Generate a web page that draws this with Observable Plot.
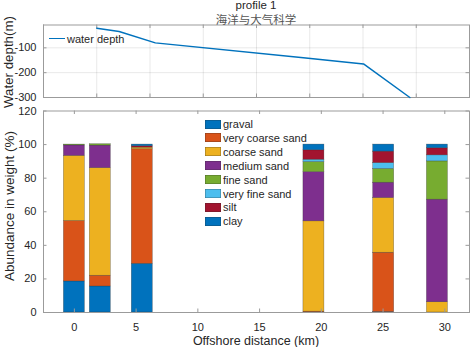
<!DOCTYPE html>
<html><head><meta charset="utf-8">
<script src="https://cdn.jsdelivr.net/npm/d3@7"></script>
<script src="https://cdn.jsdelivr.net/npm/@observablehq/plot@0.6"></script>
<style>
body{margin:0;background:#fff;}
#fig{position:relative;width:474px;height:347px;overflow:hidden;font-family:"Liberation Sans",Arial,sans-serif;background:#fff;}
#fig svg{position:absolute;left:0;background:transparent;overflow:visible;}
.lbl{position:absolute;white-space:nowrap;color:#262626;line-height:1;}
</style></head><body><div id="fig"></div>
<script>
// ---- data ----
const stations = [0, 2.1, 5.5, 19.4, 25.05, 29.4];          // offshore distance (km)
const waterDepth = [-21, -34, -80, -140, -165, -300];       // m
const classes = ["graval","very coarse sand","coarse sand","medium sand","fine sand","very fine sand","silt","clay"];
const graval        = [18.5, 15.5, 29.0, 0.0, 0.3, 0.0];
const veryCoarse    = [36.0,  6.4, 68.2, 0.5, 35.3, 0.0];
const coarse        = [38.8, 64.1,  1.0, 53.8, 32.6, 6.1];
const medium        = [ 6.2, 13.4,  0.0, 29.3,  9.1, 61.1];
const fine          = [ 0.5,  0.8,  0.0,  6.0,  8.2, 22.8];
const veryFine      = [ 0.0,  0.0,  0.0,  1.4,  3.5,  3.6];
const silt          = [ 0.0,  0.0,  0.8,  5.6,  6.8,  4.2];
const clay          = [ 0.0,  0.0,  1.0,  3.4,  4.2,  2.2];
const xTicks = [0, 5, 10, 15, 20, 25, 30];
const depthTicks = [-100, -200, -300];
const abundTicks = [0, 20, 40, 60, 80, 100, 120];
const colors = ["#0072BD","#D95319","#EDB120","#7E2F8E","#77AC30","#4DBEEE","#A2142F","#0072BD"];

// ---- build tables ----
const series = [graval, veryCoarse, coarse, medium, fine, veryFine, silt, clay];
const rows = [];
stations.forEach((km, i) => {
  let acc = 0;
  series.forEach((s, k) => {
    rows.push({km, cls: classes[k], y1: acc, y2: acc + s[i]});
    acc += s[i];
  });
});
const depthRows = stations.map((km, i) => ({km, depth: waterDepth[i]}));

const fig = document.getElementById("fig");
const W = 474, ML = 43, MR = 5;
const frameW = W - ML - MR;
const axisColor = "#9b9b9b";
const tickLen = 3.5;

// ---- top panel ----
const topH = 100, topMT = 24.5, topMB = 3;
const topFH = topH - topMT - topMB;
const topGrid = [-5, 0, 5, 10, 15, 20, 25, 30];
const topPlot = Plot.plot({
  width: W, height: topH,
  marginLeft: ML, marginRight: MR, marginTop: topMT, marginBottom: topMB,
  style: {fontFamily: "Liberation Sans, Arial, sans-serif", fontSize: "11px", color: "#262626", background: "transparent", overflow: "visible"},
  x: {domain: [-5, 35], axis: null},
  y: {domain: [-300, -8], axis: null},
  marks: [
    Plot.gridX(topGrid, {stroke: "#000", strokeOpacity: 0.09}),
    Plot.gridY(depthTicks, {stroke: "#000", strokeOpacity: 0.09}),
    Plot.ruleX(topGrid, {x: d => d, insetTop: topFH - tickLen, stroke: axisColor}),
    Plot.ruleX(topGrid, {x: d => d, insetBottom: topFH - tickLen, stroke: axisColor}),
    Plot.ruleY(depthTicks, {y: d => d, insetRight: frameW - tickLen, stroke: axisColor}),
    Plot.ruleY(depthTicks, {y: d => d, insetLeft: frameW - tickLen, stroke: axisColor}),
    Plot.frame({stroke: axisColor}),
    Plot.axisY(depthTicks, {tickSize: 0, tickPadding: 7, fontSize: 11, label: null, tickFormat: d => String(d), fill: "#262626"}),
    Plot.line(depthRows, {x: "km", y: "depth", stroke: "#0072BD", strokeWidth: 1.5})
  ]
});
topPlot.style.top = "0px";
fig.appendChild(topPlot);

// ---- bottom panel ----
const botTop = 100, botH = 247, botMT = 10.5, botMB = 35;
const botFH = botH - botMT - botMB;
const halfBar = 0.85;
const bottomPlot = Plot.plot({
  width: W, height: botH,
  marginLeft: ML, marginRight: MR, marginTop: botMT, marginBottom: botMB,
  style: {fontFamily: "Liberation Sans, Arial, sans-serif", fontSize: "11px", color: "#262626", background: "transparent", overflow: "visible"},
  x: {domain: [-2.5, 32], axis: null},
  y: {domain: [0, 120], axis: null},
  color: {domain: classes, range: colors},
  marks: [
    Plot.rect(rows, {x1: d => d.km - halfBar, x2: d => d.km + halfBar, y1: "y1", y2: "y2", fill: "cls",
      stroke: "#2a2a2a", strokeWidth: 0.5, strokeOpacity: 0.55}),
    Plot.ruleX(xTicks, {x: d => d, insetTop: botFH - tickLen, stroke: axisColor}),
    Plot.ruleX(xTicks, {x: d => d, insetBottom: botFH - tickLen, stroke: axisColor}),
    Plot.ruleY(abundTicks, {y: d => d, insetRight: frameW - tickLen, stroke: axisColor}),
    Plot.ruleY(abundTicks, {y: d => d, insetLeft: frameW - tickLen, stroke: axisColor}),
    Plot.frame({stroke: axisColor}),
    Plot.axisY(abundTicks, {tickSize: 0, tickPadding: 7, fontSize: 11, label: null, tickFormat: d => String(d), fill: "#262626"}),
    Plot.axisX(xTicks, {tickSize: 0, tickPadding: 11, fontSize: 11, label: null, tickFormat: d => String(d), fill: "#262626"})
  ]
});
bottomPlot.style.top = botTop + "px";
fig.appendChild(bottomPlot);

// ---- text & legends ----
function label(text, x, y, size, opts = {}) {
  const d = document.createElement("div");
  d.className = "lbl";
  d.textContent = text;
  d.style.left = x + "px";
  d.style.top = y + "px";
  d.style.fontSize = size + "px";
  const rot = opts.rotate ? " rotate(-90deg)" : "";
  d.style.transform = (opts.anchor === "start" ? "translate(0,-50%)" : "translate(-50%,-50%)") + rot;
  if (opts.color) d.style.color = opts.color;
  if (opts.font) d.style.fontFamily = opts.font;
  fig.appendChild(d);
  return d;
}
const cx = ML + frameW / 2;
label("profile 1", cx, 6, 11.5);
label("海洋与大气科学", cx, 20, 11.5, {color: "#555", font: "'Noto Sans CJK SC', sans-serif"});
label("Water depth(m)", 9, 62, 13.3, {rotate: true});
label("Abundance in weight (%)", 10, 206, 13.5, {rotate: true});
label("Offshore distance (km)", cx, 340.5, 12.5);

// top legend
const ln = document.createElement("div");
Object.assign(ln.style, {position: "absolute", left: "49px", top: "37.5px", width: "16px", height: "0", borderTop: "1.5px solid #0072BD"});
fig.appendChild(ln);
label("water depth", 67, 38.5, 11, {anchor: "start"});

// bottom legend
classes.forEach((c, i) => {
  const yc = 124 + i * 13.9;
  const sw = document.createElement("div");
  Object.assign(sw.style, {position: "absolute", left: "205px", top: (yc - 4.5) + "px", width: "16px", height: "9px",
    background: colors[i], boxShadow: "inset 0 0 0 0.5px rgba(40,40,40,0.5)"});
  fig.appendChild(sw);
  label(c, 223, yc, 11, {anchor: "start"});
});
</script></body></html>
